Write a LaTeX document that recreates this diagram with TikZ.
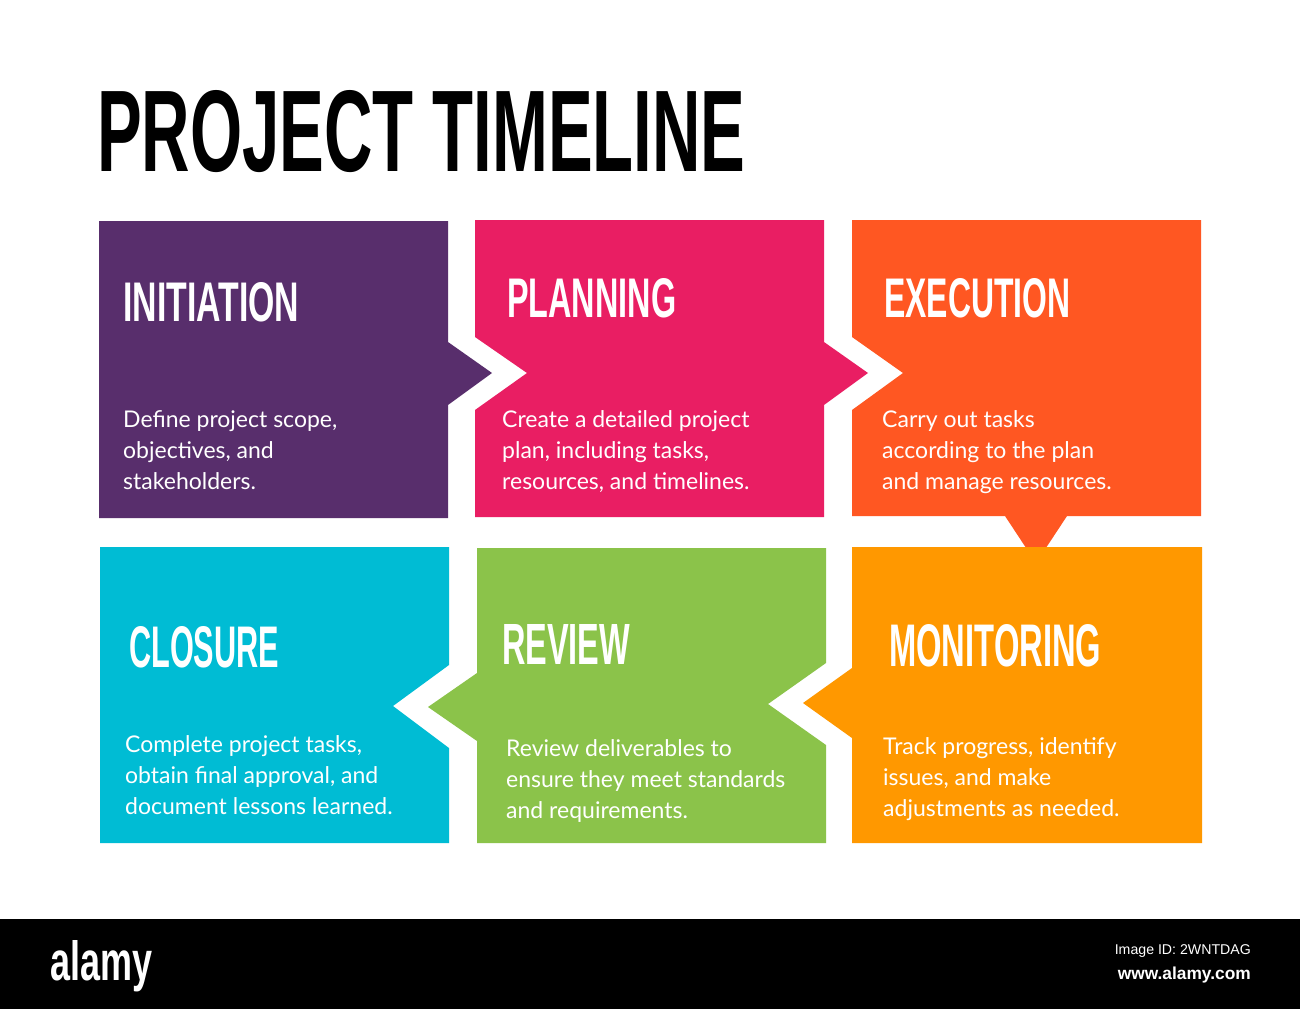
\documentclass[tikz,border=0pt]{standalone}
\usepackage{fontspec}
\setmainfont{Lato}
\newfontfamily\headfont{Liberation Sans}
\usepackage{graphicx}
\definecolor{cinit}{RGB}{88,46,108}
\definecolor{cplan}{RGB}{233,30,99}
\definecolor{cexec}{RGB}{255,87,34}
\definecolor{cclos}{RGB}{0,188,212}
\definecolor{crev}{RGB}{139,195,74}
\definecolor{cmon}{RGB}{255,152,0}
\tikzset{
  head/.style={anchor=south west, inner sep=0pt, text=white},
  body/.style={anchor=north west, inner sep=0pt, text=white, align=left,
    font=\fontsize{23}{31}\selectfont},
}
\newcommand{\hd}[3]{\resizebox{#1pt}{#2pt}{\headfont\bfseries #3}}
\begin{document}
\begin{tikzpicture}[x=1pt,y=-1pt]
\useasboundingbox (0,0) rectangle (1300,1009);
\fill[white] (0,0) rectangle (1300,1009);
% title
\node[anchor=south west, inner sep=0pt] (title) at (97,173) {\hd{648}{81}{PROJECT TIMELINE}};
% top row shapes
\fill[cinit] (99,221) -- (448,221) -- (448,342) -- (492,373) -- (448,405) -- (448,518) -- (99,518) -- cycle;
\fill[cplan] (475,220) -- (824,220) -- (824,342) -- (868,373) -- (824,405) -- (824,517) -- (475,517) -- (475,410) -- (527,373) -- (475,337) -- cycle;
\fill[cexec] (852,220) -- (1201,220) -- (1201,516) -- (1067,516) -- (1036,563) -- (1005,516) -- (852,516) -- (852,410) -- (903,373) -- (852,337) -- cycle;
% bottom row shapes
\fill[cclos] (100,547) -- (449,547) -- (449,665) -- (393,706) -- (449,748) -- (449,843) -- (100,843) -- cycle;
\fill[crev] (477,548) -- (826,548) -- (826,663) -- (768,704) -- (826,745) -- (826,843) -- (477,843) -- (477,741) -- (428,707) -- (477,673) -- cycle;
\fill[cmon] (852,547) -- (1202,547) -- (1202,843) -- (852,843) -- (852,738) -- (803,703) -- (852,668) -- cycle;
% headings
\node[head] (hinit) at (123,322) {\hd{176}{39}{INITIATION}};
\node[head] (hplan) at (507,318) {\hd{169}{39}{PLANNING}};
\node[head] (hexec) at (884,318) {\hd{186}{39}{EXECUTION}};
\node[head] (hclos) at (129,668) {\hd{150}{41}{CLOSURE}};
\node[head] (hrev) at (502,665) {\hd{128}{40}{REVIEW}};
\node[head] (hmon) at (889,667) {\hd{212}{42}{MONITORING}};
% bodies
\node[body] (binit) at (123,410) {Define project scope,\\objectives, and\\stakeholders.};
\node[body] (bplan) at (502,410) {Create a detailed project\\plan, including tasks,\\resources, and timelines.};
\node[body] (bexec) at (882,410) {Carry out tasks\\according to the plan\\and manage resources.};
\node[body] (bclos) at (125,735) {Complete project tasks,\\obtain final approval, and\\document lessons learned.};
\node[body] (brev) at (506,739) {Review deliverables to\\ensure they meet standards\\and requirements.};
\node[body] (bmon) at (883,737) {Track progress, identify\\issues, and make\\adjustments as needed.};
% bottom bar
\fill[black] (0,919) rectangle (1300,1009);
\node[anchor=base west, inner sep=0pt, text=white] (logo) at (50,980) {\resizebox{102pt}{40pt}{\headfont\bfseries alamy}};
\node[anchor=east, inner sep=0pt, text=white] (imgid) at (1251,951) {\resizebox{136pt}{!}{\headfont Image ID: 2WNTDAG}};
\node[anchor=east, inner sep=0pt, text=white] (url) at (1251,975) {\resizebox{133pt}{!}{\headfont\bfseries www.alamy.com}};
\end{tikzpicture}
\end{document}
